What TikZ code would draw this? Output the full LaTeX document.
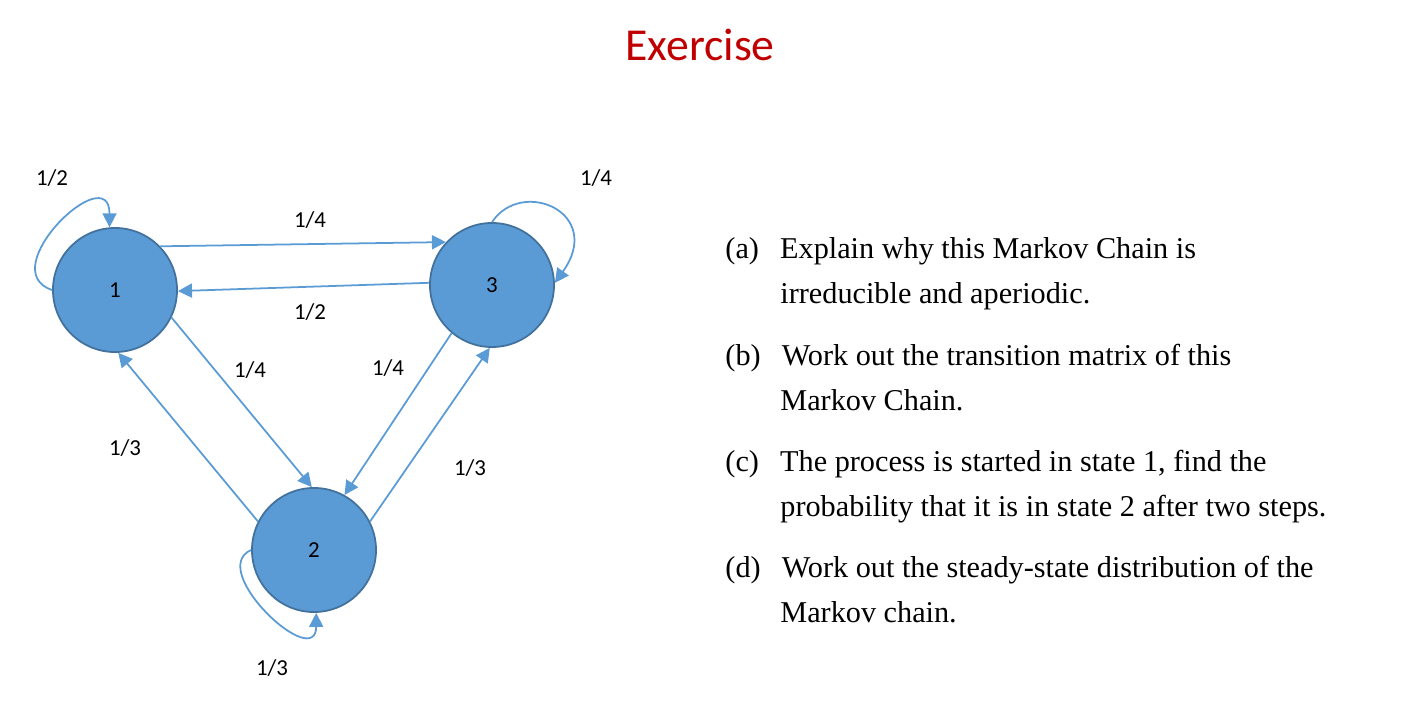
\documentclass[tikz,border=0pt]{standalone}
\usepackage{fontspec}
\setmainfont{Liberation Serif}
\newfontfamily\calfam{Carlito}
\usetikzlibrary{arrows.meta}
\definecolor{nodeblue}{HTML}{5B9BD5}
\definecolor{nodeedge}{HTML}{41719C}
\definecolor{titlered}{HTML}{C00000}
\begin{document}
\begin{tikzpicture}[x=0.01cm,y=-0.01cm,
  state/.style={circle,fill=nodeblue,draw=nodeedge,line width=0.5pt,minimum size=1.24cm,inner sep=0pt,font=\calfam\fontsize{6.5}{7}\selectfont},
  conn/.style={draw=nodeblue,line width=0.5pt,-{Triangle[length=4pt,width=4pt]}},
  lab/.style={font=\calfam\fontsize{6.5}{7}\selectfont},
  item/.style={anchor=base west,font=\fontsize{8.6}{10}\selectfont}]
\useasboundingbox (0,0) rectangle (1424,706);
\node[font=\calfam\fontsize{13}{15}\selectfont,text=titlered] (title) at (700,45) {Exercise};
\node[state] (n1) at (115,290) {1};
\node[state] (n3) at (492,285) {3};
\node[state] (n2) at (314,550) {2};
\draw[conn] (n1.44) -- (n3.137);
\draw[conn] (n3.178) -- (n1.-1);
\draw[conn] (n1.-26) -- (n2.92);
\draw[conn] (n2.153) -- (n1.-87);
\draw[conn] (n3.-130) -- (n2.61);
\draw[conn] (n2.27) -- (n3.-92);
\draw[conn] (n1.180) .. controls +(-60,-20) and +(0,-70) .. (n1.95);
\draw[conn] (n3.90) .. controls +(30,-45) and +(50,-70) .. (n3.2);
\draw[conn] (n2.180) .. controls +(-45,20) and +(0,60) .. (n2.-88);
\node[lab] (l13) at (310,220) {1/4};
\node[lab] (l31) at (310,312) {1/2};
\node[lab] (l12) at (250,370) {1/4};
\node[lab] (l21) at (125,448) {1/3};
\node[lab] (l32) at (388,368) {1/4};
\node[lab] (l23) at (470,468) {1/3};
\node[lab] (l11) at (52,178) {1/2};
\node[lab] (l33) at (596,178) {1/4};
\node[lab] (l22) at (272,668) {1/3};
\node[item] (a1) at (713,258) {(a)\hspace{0.7em}Explain why this Markov Chain is};
\node[item] (a2) at (768,303) {irreducible and aperiodic.};
\node[item] (b1) at (713,365) {(b)\hspace{0.7em}Work out the transition matrix of this};
\node[item] (b2) at (768,410) {Markov Chain.};
\node[item] (c1) at (713,471) {(c)\hspace{0.7em}The process is started in state 1, find the};
\node[item] (c2) at (768,516) {probability that it is in state 2 after two steps.};
\node[item] (d1) at (713,577) {(d)\hspace{0.7em}Work out the steady-state distribution of the};
\node[item] (d2) at (768,622) {Markov chain.};
\end{tikzpicture}
\end{document}
